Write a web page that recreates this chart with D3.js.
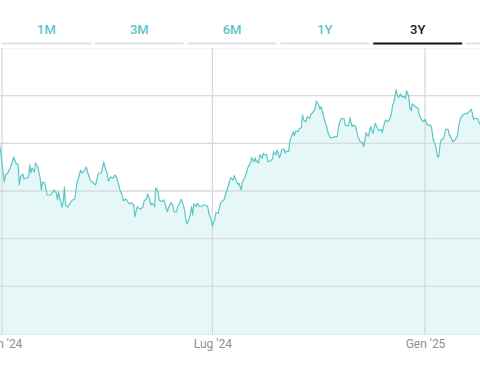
<!DOCTYPE html>
<html>
<head>
<meta charset="utf-8">
<script src="https://cdn.jsdelivr.net/npm/d3@7"></script>
<style>
  html, body { margin: 0; padding: 0; background: #fff; }
  svg { display: block; }
</style>
</head>
<body>
<svg id="chart" width="480" height="384"></svg>
<script>
// ---- Data ----
const tabs = ["1M", "3M", "6M", "1Y", "3Y"];
const activeTab = "3Y";
const tickDates = ["2024-01-01", "2024-07-01", "2025-01-01"];
const tickLabels = ["Gen '24", "Lug '24", "Gen '25"];
const gridValues = [5, 10, 15, 20, 25, 30];

const dates = [
"2023-12-30","2023-12-31","2024-01-02","2024-01-03","2024-01-04","2024-01-06","2024-01-08","2024-01-10","2024-01-11","2024-01-13",
"2024-01-15","2024-01-16","2024-01-17","2024-01-19","2024-01-20","2024-01-22","2024-01-24","2024-01-25","2024-01-26","2024-01-27",
"2024-01-29","2024-01-30","2024-02-01","2024-02-03","2024-02-04","2024-02-05","2024-02-07","2024-02-09","2024-02-10","2024-02-12",
"2024-02-14","2024-02-15","2024-02-17","2024-02-18","2024-02-19","2024-02-20","2024-02-22","2024-02-23","2024-02-24","2024-02-25",
"2024-02-27","2024-02-29","2024-03-02","2024-03-04","2024-03-06","2024-03-07","2024-03-09","2024-03-10","2024-03-12","2024-03-14",
"2024-03-15","2024-03-17","2024-03-18","2024-03-20","2024-03-22","2024-03-24","2024-03-25","2024-03-27","2024-03-29","2024-03-30",
"2024-04-01","2024-04-02","2024-04-04","2024-04-06","2024-04-08","2024-04-09","2024-04-11","2024-04-12","2024-04-14","2024-04-15",
"2024-04-17","2024-04-18","2024-04-20","2024-04-22","2024-04-24","2024-04-25","2024-04-27","2024-04-28","2024-04-30","2024-05-02",
"2024-05-03","2024-05-05","2024-05-06","2024-05-07","2024-05-09","2024-05-10","2024-05-12","2024-05-13","2024-05-15","2024-05-16",
"2024-05-18","2024-05-20","2024-05-21","2024-05-23","2024-05-24","2024-05-26","2024-05-27","2024-05-29","2024-05-31","2024-06-01",
"2024-06-03","2024-06-04","2024-06-05","2024-06-07","2024-06-08","2024-06-09","2024-06-11","2024-06-12","2024-06-13","2024-06-14",
"2024-06-15","2024-06-17","2024-06-18","2024-06-20","2024-06-22","2024-06-23","2024-06-25","2024-06-27","2024-06-28","2024-06-30",
"2024-07-01","2024-07-03","2024-07-04","2024-07-06","2024-07-08","2024-07-09","2024-07-11","2024-07-13","2024-07-14","2024-07-16",
"2024-07-17","2024-07-19","2024-07-20","2024-07-22","2024-07-23","2024-07-24","2024-07-26","2024-07-27","2024-07-29","2024-07-30",
"2024-08-01","2024-08-03","2024-08-04","2024-08-06","2024-08-07","2024-08-08","2024-08-09","2024-08-10","2024-08-11","2024-08-13",
"2024-08-14","2024-08-15","2024-08-17","2024-08-18","2024-08-20","2024-08-22","2024-08-23","2024-08-25","2024-08-26","2024-08-28",
"2024-08-29","2024-08-30","2024-09-01","2024-09-02","2024-09-03","2024-09-05","2024-09-06","2024-09-07","2024-09-09","2024-09-10",
"2024-09-11","2024-09-13","2024-09-14","2024-09-16","2024-09-17","2024-09-18","2024-09-20","2024-09-21","2024-09-23","2024-09-24",
"2024-09-25","2024-09-27","2024-09-28","2024-09-29","2024-10-01","2024-10-02","2024-10-03","2024-10-05","2024-10-06","2024-10-08",
"2024-10-09","2024-10-11","2024-10-13","2024-10-15","2024-10-17","2024-10-18","2024-10-19","2024-10-20","2024-10-21","2024-10-23",
"2024-10-24","2024-10-25","2024-10-27","2024-10-28","2024-10-30","2024-10-31","2024-11-02","2024-11-04","2024-11-06","2024-11-08",
"2024-11-09","2024-11-11","2024-11-12","2024-11-13","2024-11-15","2024-11-17","2024-11-19","2024-11-20","2024-11-22","2024-11-24",
"2024-11-25","2024-11-27","2024-11-28","2024-11-30","2024-12-01","2024-12-03","2024-12-04","2024-12-05","2024-12-07","2024-12-08",
"2024-12-09","2024-12-11","2024-12-12","2024-12-14","2024-12-15","2024-12-16","2024-12-18","2024-12-19","2024-12-20","2024-12-21",
"2024-12-23","2024-12-24","2024-12-26","2024-12-27","2024-12-29","2024-12-31","2025-01-01","2025-01-03","2025-01-06","2025-01-07",
"2025-01-08","2025-01-10","2025-01-11","2025-01-12","2025-01-13","2025-01-14","2025-01-15","2025-01-17","2025-01-19","2025-01-21",
"2025-01-22","2025-01-23","2025-01-25","2025-01-27","2025-01-29","2025-01-30","2025-02-01","2025-02-03","2025-02-05","2025-02-06",
"2025-02-08","2025-02-10","2025-02-11","2025-02-12","2025-02-14","2025-02-16","2025-02-17","2025-02-19"
];

const prices = [
19.83,18.99,16.89,15.94,16.68,16.89,17.41,18.04,18.57,17.94,
17.73,15.63,16.47,16.78,16.26,16.36,16.47,17.73,16.89,17.41,
16.99,17.94,17.52,16.36,15.11,15.94,15.84,14.58,14.58,14.58,
14.90,15.11,14.79,14.06,14.90,14.27,13.32,13.85,15.42,13.53,
13.32,13.74,14.06,14.16,15.94,16.26,17.20,16.89,17.10,17.52,
16.99,16.26,16.05,15.84,15.63,16.68,16.89,16.89,18.04,17.52,
16.89,16.05,16.47,16.36,16.68,16.47,15.63,15.11,14.58,13.98,
14.16,14.06,13.64,13.77,13.53,12.30,13.35,13.22,13.11,13.35,
13.98,14.16,14.69,14.40,13.53,13.74,13.35,15.32,14.93,14.06,
13.88,14.06,13.71,12.83,13.19,13.77,13.71,12.83,12.80,13.35,
13.77,14.13,13.88,13.01,12.03,11.54,12.14,12.66,13.35,12.48,
13.64,13.35,13.71,13.35,13.43,13.53,13.53,13.35,12.66,11.96,
11.33,11.96,12.72,12.66,13.71,13.88,14.06,14.84,15.21,16.05,
16.40,16.15,16.61,15.98,15.70,15.81,15.11,15.91,16.40,16.75,
17.55,17.91,18.49,18.07,18.49,18.07,18.15,17.91,18.78,18.43,
18.96,18.78,18.85,18.07,18.15,18.36,19.12,18.78,19.30,18.49,
18.78,19.30,19.41,18.96,19.20,19.12,20.17,20.59,21.22,20.80,
21.29,21.22,21.50,21.64,22.97,22.45,22.27,22.79,22.63,22.97,
23.15,23.39,23.68,24.44,24.02,23.60,23.84,23.05,22.45,21.75,
21.16,20.59,20.59,20.70,20.70,21.58,22.10,22.45,22.63,22.55,
21.92,21.85,21.85,22.69,21.75,21.92,21.75,20.70,20.17,20.07,
19.65,21.12,20.88,20.77,21.75,21.05,22.10,21.82,21.33,21.47,
21.12,22.17,22.45,22.27,22.45,23.15,24.02,24.26,25.60,25.07,
24.83,25.18,24.89,24.89,24.72,25.52,24.89,23.68,23.42,24.13,
23.92,23.84,23.68,22.97,22.45,22.27,22.52,21.92,21.92,21.40,
20.42,19.83,19.12,18.54,18.67,19.83,20.35,20.53,21.47,21.47,
20.88,20.77,20.17,20.35,20.77,21.75,22.73,22.97,23.15,23.08,
23.32,23.57,23.15,22.52,22.63,22.52,22.10,21.82
];

// ---- Setup ----
const W = 480, H = 384;
const plot = { top: 48, bottom: 334, left: 2 };
const parse = d3.utcParse("%Y-%m-%d");
const series = dates.map((d, i) => ({ date: parse(d), value: prices[i] }));

const svg = d3.select("#chart");

const x = d3.scaleUtc()
  .domain([parse("2024-01-01"), parse("2025-01-01")])
  .range([plot.left, 425]);
const y = d3.scaleLinear().domain([0, 30]).range([plot.bottom, plot.top]);

// ---- Tabs ----
const tabW = 89, tabPitch = 92.8, tabX0 = 2;
const tabG = svg.append("g");
const tabSlots = tabs.concat([null]);
tabG.selectAll("line.tab")
  .data(tabSlots)
  .join("line")
  .attr("x1", (d, i) => tabX0 + i * tabPitch)
  .attr("x2", (d, i) => tabX0 + i * tabPitch + tabW)
  .attr("y1", 43.5).attr("y2", 43.5)
  .attr("stroke", d => d === activeTab ? "#111" : "#dfe3e6")
  .attr("stroke-width", 2);
tabG.selectAll("text")
  .data(tabs)
  .join("text")
  .attr("x", (d, i) => tabX0 + i * tabPitch + tabW / 2)
  .attr("y", 34)
  .attr("text-anchor", "middle")
  .attr("font-family", "Roboto, 'Noto Sans', sans-serif")
  .attr("font-size", 13)
  .attr("font-weight", 500)
  .attr("fill", d => d === activeTab ? "#1a1a1a" : "#5cc6c6")
  .text(d => d);

// ---- Area + line ----
const clip = svg.append("defs").append("clipPath").attr("id", "plotclip")
  .append("rect").attr("x", 0).attr("y", plot.top).attr("width", W).attr("height", plot.bottom - plot.top);

const g = svg.append("g").attr("clip-path", "url(#plotclip)");

g.append("path")
  .datum(series)
  .attr("fill", "#e5f7f7")
  .attr("d", d3.area().x(d => x(d.date)).y0(y(0)).y1(d => y(d.value)));

// gridlines
g.selectAll("line.hgrid")
  .data(gridValues)
  .join("line")
  .attr("class", "hgrid")
  .attr("x1", 0).attr("x2", W)
  .attr("y1", d => y(d)).attr("y2", d => y(d))
  .attr("stroke", d => d === 30 ? "#eef0f2" : "#d6dbde")
  .attr("stroke-width", 1.4);

g.selectAll("line.vgrid")
  .data(tickDates)
  .join("line")
  .attr("class", "vgrid")
  .attr("x1", d => x(parse(d))).attr("x2", d => x(parse(d)))
  .attr("y1", plot.top).attr("y2", plot.bottom)
  .attr("stroke", "#d3d8db")
  .attr("stroke-width", 1.2);

g.append("path")
  .datum(series)
  .attr("fill", "none")
  .attr("stroke", "#5cc6c6")
  .attr("stroke-width", 1.2)
  .attr("stroke-linejoin", "round")
  .attr("d", d3.line().x(d => x(d.date)).y(d => y(d.value)));

// baseline (dotted)
svg.append("line")
  .attr("x1", 0).attr("x2", W)
  .attr("y1", plot.bottom + 0.5).attr("y2", plot.bottom + 0.5)
  .attr("stroke", "#c9ced2")
  .attr("stroke-width", 1)
  .attr("stroke-dasharray", "1,1");

// ---- X axis ----
const xAxis = d3.axisBottom(x)
  .tickValues(tickDates.map(parse))
  .tickFormat((d, i) => tickLabels[i])
  .tickSize(0)
  .tickPadding(5);
const ax = svg.append("g").attr("transform", `translate(0,${plot.bottom})`).call(xAxis);
ax.select(".domain").remove();
ax.selectAll("text")
  .attr("font-family", "Roboto, 'Noto Sans', sans-serif")
  .attr("font-size", 12)
  .attr("fill", "#8a8f93");
</script>
</body>
</html>
